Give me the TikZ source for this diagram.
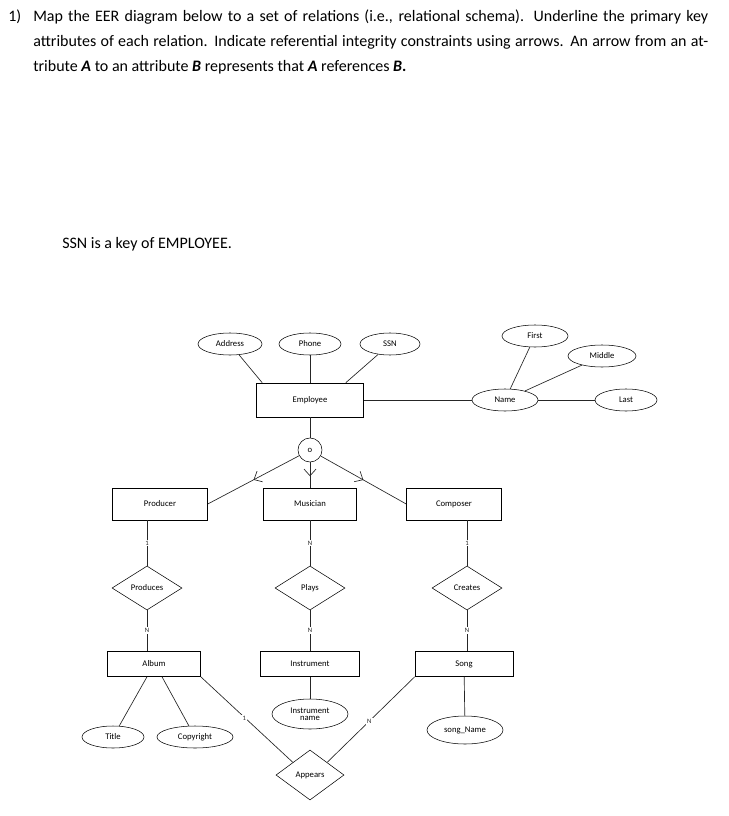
\documentclass[tikz,border=0pt]{standalone}
\usepackage{fontspec}
\setmainfont{Carlito}
\usetikzlibrary{shapes.geometric,decorations.markings,arrows.meta,calc}
\begin{document}
\begin{tikzpicture}[x=0.75pt,y=-0.75pt,
  ent/.style={draw,minimum width=#1*0.75pt,minimum height=25*0.75pt,inner sep=0pt,font=\fontsize{6.5}{7}\selectfont},
  ent/.default=94,
  att/.style={draw,ellipse,minimum width=#1*0.75pt,minimum height=22*0.75pt,inner sep=0pt,font=\fontsize{6.5}{7}\selectfont},
  att/.default=62,
  rel/.style={draw,diamond,aspect=1.6,minimum width=70*0.75pt,minimum height=44*0.75pt,inner sep=0pt,font=\fontsize{6.5}{7}\selectfont},
  card/.style={font=\fontsize{5}{6}\selectfont,inner sep=1pt,fill=white},
  sub/.style={postaction={decorate},decoration={markings,mark=at position #1 with {\arrow{Straight Barb[length=5pt,width=9pt]}}}},
  line/.style={draw,gray!30!black,line width=0.5pt},
  hdr/.style={font=\fontsize{12}{18.6}\selectfont,anchor=north west,inner sep=0pt}]
\useasboundingbox (0,0) rectangle (728,816);
\node[hdr] (n1) at (8,10) {1)};
\node[hdr,text width=675*0.75pt,align=justify] (hd) at (33,10) {Map the EER diagram below to a set of relations (i.e., relational schema). Underline the primary key attributes of each relation. Indicate referential integrity constraints using arrows. An arrow from an attribute \textbf{\textit{A}} to an attribute \textbf{\textit{B}} represents that \textbf{\textit{A}} references \textbf{\textit{B}.}};
\node[hdr] (ssnkey) at (62,237) {SSN is a key of EMPLOYEE.};

\node[ent=107,minimum height=34*0.75pt] (emp) at (310,400) {Employee};
\node[att=64] (addr) at (230,344) {Address};
\node[att] (phone) at (310,344) {Phone};
\node[att=60] (ssn) at (390,344) {SSN};
\node[att=66] (name) at (505,400) {Name};
\node[att=66] (first) at (535,336) {First};
\node[att=68] (middle) at (602,356) {Middle};
\node[att] (last) at (626,400) {Last};
\node[draw,circle,minimum size=24*0.75pt,inner sep=0pt,font=\fontsize{6.5}{7}\selectfont] (o) at (310,450) {o};
\node[ent=95,minimum height=32*0.75pt] (prod) at (160,504) {Producer};
\node[ent=93,minimum height=32*0.75pt] (mus) at (310,504) {Musician};
\node[ent=95,minimum height=32*0.75pt] (comp) at (454,504) {Composer};
\node[rel] (produces) at (147,588) {Produces};
\node[rel] (plays) at (310,588) {Plays};
\node[rel] (creates) at (467,588) {Creates};
\node[ent=93] (album) at (154,664) {Album};
\node[ent=99] (instr) at (310,664) {Instrument};
\node[ent=98] (song) at (464,664) {Song};
\node[att] (title) at (113,737) {Title};
\node[att=76] (copy) at (195,737) {Copyright};
\node[att=76,minimum height=30*0.75pt,align=center] (iname) at (310,714) {Instrument\\[-2pt]name};
\node[att=76,minimum height=28*0.75pt] (sname) at (465,730) {song\_Name};
\node[rel,minimum width=68*0.75pt,minimum height=50*0.75pt] (appears) at (310,775) {Appears};

\coordinate (ea) at ($(emp.north west)+(6,0)$);
\coordinate (es) at ($(emp.north east)+(-18,0)$);
\draw[line] (ea) -- (addr);
\draw[line] (emp) -- (phone);
\draw[line] (es) -- (ssn);
\draw[line] (emp) -- (name);
\draw[line] (name) -- (last);
\draw[line] (name) -- (first);
\draw[line] (name) -- (middle);
\draw[line] (emp) -- (o);
\draw[line,sub=0.5] (o) -- (prod.east);
\draw[line,sub=0.55] (o) -- (mus);
\draw[line,sub=0.5] (o) -- (comp.west);
\draw[line] (prod.south -| produces) -- node[card,pos=0.5]{1} (produces.north);
\draw[line] (produces.south) -- node[card]{N} (album.north -| produces);
\draw[line] (mus) -- node[card]{N} (plays);
\draw[line] (plays) -- node[card]{N} (instr);
\draw[line] (comp.south -| creates) -- node[card]{1} (creates.north);
\draw[line] (creates.south) -- node[card]{N} (song.north -| creates);
\coordinate (a1) at ($(album.south)+(-7,0)$);
\coordinate (a2) at ($(album.south)+(8,0)$);
\draw[line] (a1) -- (title);
\draw[line] (a2) -- (copy);
\draw[line] (album.south east) -- node[card,pos=0.48,above right=-3pt]{1} (appears.north west);
\draw[line] (song.south west) -- node[card,pos=0.52,above left=-3pt]{N} (appears.north east);
\draw[line] (instr) -- (iname);
\draw[line] (song) -- (sname);
\end{tikzpicture}
\end{document}
